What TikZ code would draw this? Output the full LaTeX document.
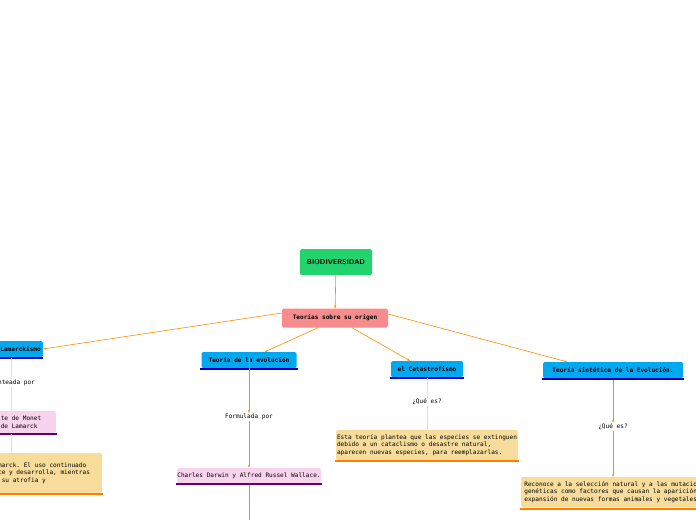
\documentclass[tikz,border=0pt]{standalone}
\usepackage{fontspec}
\usetikzlibrary{arrows.meta}
\setmonofont{DejaVu Sans Mono}
\begin{document}
\begin{tikzpicture}[x=1pt,y=-1pt,font=\ttfamily\fontsize{6.1}{7.6}\selectfont,
 box/.style={rounded corners=1.5pt,inner sep=0pt,anchor=center},
 lbl/.style={inner sep=1pt},
 conn/.style={draw=orange!90!yellow,line width=0.6pt,-{Stealth[length=3pt]}},
 pale/.style={draw=orange!30,line width=0.8pt}]
\useasboundingbox (0,0) rectangle (696,520);
\clip (0,0) rectangle (696,520);
\definecolor{gr}{HTML}{22D36E}\definecolor{sal}{HTML}{F88C8C}
\definecolor{bl}{HTML}{00A8F0}\definecolor{pk}{HTML}{F7D3EE}\definecolor{yl}{HTML}{F8DC9C}
\node[box,fill=gr,minimum width=72,minimum height=26,font=\sffamily\bfseries\fontsize{7}{8}\selectfont] (bio) at (336,262) {BIODIVERSIDAD};
\node[box,fill=sal,minimum width=106,minimum height=19] (teo) at (335,318) {\textbf{Teorías sobre su origen}};
\node[box,fill=bl,minimum width=80,minimum height=16,anchor=east,align=right,text width=76] (lam) at (43,349) {\textbf{Lamarckismo}};
\draw[blue!80!black,line width=1.3pt] (-40,358)--(43,358);
\node[lbl] (pla) at (11,383) {Planteada por};
\node[box,fill=pk,minimum width=110,minimum height=22,align=center,anchor=east] (jb) at (56,422) {Jean-Baptiste de Monet\\Caballero de Lamarck};
\draw[violet!80!black,line width=1.3pt] (-60,434)--(57,434);
\node[box,fill=yl,minimum width=200,minimum height=40,align=left,anchor=east] (lt) at (102,473) {Teoría propuesta por Lamarck. El uso continuado\\de un órgano lo fortalece y desarrolla, mientras\\que su desuso determina su atrofia y};
\draw[orange,line width=1.5pt] (-100,494)--(103,494);
\node[box,fill=bl,minimum width=95,minimum height=16] (ev) at (249,360) {\textbf{Teoría de la evolución}};
\draw[blue!80!black,line width=1.3pt] (200,369)--(298,369);
\node[lbl] (form) at (249,417) {Formulada por};
\node[box,fill=pk,minimum width=144,minimum height=15] (cd) at (249,475.5) {Charles Darwin y Alfred Russel Wallace.};
\draw[violet!80!black,line width=1.3pt] (176,484)--(322,484);
\coordinate (cdend) at (249,520);
\node[box,fill=bl,minimum width=72,minimum height=16] (cat) at (427,369) {\textbf{el Catastrofismo}};
\draw[blue!80!black,line width=1.3pt] (390,378)--(464,378);
\node[lbl] (q1) at (427,402) {¿Qué es?};
\node[box,fill=yl,minimum width=182,minimum height=30,align=left] (ct) at (427,445) {Esta teoría plantea que las especies se extinguen\\debido a un cataclismo o desastre natural,\\aparecen nuevas especies, para reemplazarlas.};
\draw[orange,line width=1.5pt] (335,461)--(519,461);
\node[box,fill=bl,minimum width=140,minimum height=16] (sin) at (613,370) {\textbf{Teoría sintética de la Evolución.}};
\draw[blue!80!black,line width=1.3pt] (542,379)--(684,379);
\node[lbl] (q2) at (613,427) {¿Qué es?};
\node[box,fill=yl,minimum width=190,minimum height=30,align=left,anchor=west,inner xsep=3pt] (st) at (521,492) {Reconoce a la selección natural y a las mutaciones\\genéticas como factores que causan la aparición y\\expansión de nuevas formas animales y vegetales.};
\draw[orange,line width=1.5pt] (520,509)--(700,509);
\draw[conn] (bio) -- (teo);
\draw[conn] ([yshift=5]teo.west) -- (lam.east);
\draw[conn] ([xshift=-17]teo.south) -- ([xshift=16]ev.north);
\draw[conn] ([xshift=17]teo.south) -- ([xshift=-17]cat.north);
\draw[conn] ([yshift=4]teo.east) -- ([xshift=-46]sin.north);
\draw[pale] (11,358) -- (pla);
\draw[pale] (pla) -- (11,411);
\draw[pale] (11,434) -- (11,453);
\draw[conn] ([yshift=10]ev.south) -- (form);
\draw[conn] (form) -- (cd);
\draw[draw=orange!90!yellow,line width=0.6pt] (249,485) -- (cdend);
\draw[pale] (427,378) -- (q1);
\draw[pale] (q1) -- (ct);
\draw[conn] (613,380) -- (q2);
\draw[conn] (q2) -- (613,477);
\end{tikzpicture}
\end{document}
